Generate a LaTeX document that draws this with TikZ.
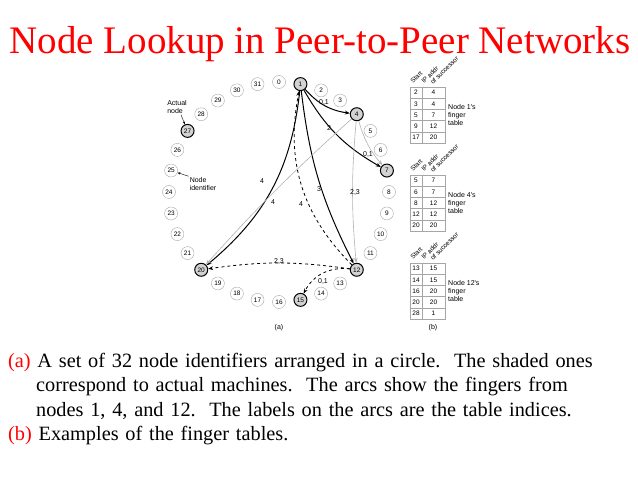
\documentclass[tikz,border=0pt]{standalone}
\usepackage{fontspec}
\setmainfont{Liberation Serif}
\newfontfamily\dsans{Liberation Sans}
\usetikzlibrary{arrows.meta}
\begin{document}
\begin{tikzpicture}[x=1pt,y=-1pt,
  idn/.style={circle,draw=gray!70,thin,inner sep=0pt,minimum size=13pt,font=\dsans\fontsize{6.5}{7}\selectfont},
  act/.style={idn,draw=black,line width=1pt,fill=gray!35},
  lbl/.style={font=\dsans\fontsize{7}{8}\selectfont,inner sep=1pt},
  hdr/.style={font=\dsans\fontsize{6.5}{7}\selectfont,inner sep=0pt,rotate=45,anchor=base west},
  big/.style={line width=1pt,-{Stealth[length=5pt]}},
  thin1/.style={gray!60,line width=0.6pt,-{Stealth[length=5pt]}},
  dsh/.style={dashed,line width=0.8pt,-{Stealth[length=5pt]}},
  cell/.style={font=\dsans\fontsize{6.5}{7}\selectfont}]
\useasboundingbox (0,0) rectangle (638,478);
\node[red,font=\fontsize{39}{44}\selectfont] (title) at (320,44) {Node Lookup in Peer-to-Peer Networks};
\foreach \k in {0,2,3,5,6,8,9,10,11,13,14,16,17,18,19,21,22,23,24,25,26,28,29,30,31}
  \node[idn] (n\k) at ({279+110*sin(\k*11.25)},{192-110*cos(\k*11.25)}) {\k};
\foreach \k in {1,4,7,12,15,20,27}
  \node[act] (n\k) at ({279+110*sin(\k*11.25)},{192-110*cos(\k*11.25)}) {\k};
% annotations
\node[lbl,align=left] (an) at (177,107) {Actual\\node};
\draw[-{Stealth[length=3pt]},thin] (an.south) ++(4,0) -- (n27);
\node[lbl,align=left] (ni) at (203,184) {Node\\identifier};
\draw[-{Stealth[length=3pt]},thin] (ni.north west) -- (n25);
% fingers of node 1
\draw[big] (n1) to[bend right=20] (n4);
\draw[big] (n1) to[bend right=15] (n7);
\draw[big] (n1) to[bend right=10] (n12);
\draw[big] (n1) to[bend left=22] (n20);
% fingers of node 4
\draw[thin1] (n4) to[bend right=12] (n7);
\draw[thin1] (n4) to[bend right=5] (n12);
\draw[thin1] (n4) to[bend right=3] (n20);
% fingers of node 12
\draw[dsh] (n12) to[bend right=35] (n15);
\draw[dsh] (n12) to[bend right=8] (n20);
\draw[dsh] (n12) to[bend left=28] (n1);
% arc labels
\node[lbl] (l1a) at (324,103) {0,1};
\node[lbl] (l1b) at (329,128) {2};
\node[lbl] (l1c) at (319,189) {3};
\node[lbl] (l1d) at (262,181) {4};
\node[lbl] (l4a) at (368,155) {0,1};
\node[lbl] (l4b) at (355,193) {2,3};
\node[lbl] (l4c) at (273,202) {4};
\node[lbl] (l12a) at (323,282) {0,1};
\node[lbl] (l12b) at (279,262) {2,3};
\node[lbl] (l12c) at (301,204) {4};
\node[lbl] (la) at (279,328) {(a)};
% tables
\foreach \top/\nm/\vals in {87/Node 1's/{2/4,3/4,5/7,9/12,17/20},175/Node 4's/{5/7,6/7,8/12,12/12,20/20},263/Node 12's/{13/15,14/15,16/20,20/20,28/1}}{
  \foreach \a/\b [count=\i] in \vals {
    \draw[gray!70,thin] (410,{\top+(\i-1)*11.2}) rectangle (422,{\top+\i*11.2});
    \draw[gray!70,thin] (422,{\top+(\i-1)*11.2}) rectangle (445,{\top+\i*11.2});
    \node[cell] at (416,{\top+(\i-0.5)*11.2}) {\a};
    \node[cell] at (433.5,{\top+(\i-0.5)*11.2}) {\b};
  }
  \draw[gray!70,line width=0.7pt] (410,\top) rectangle (445,{\top+56});
  \node[lbl,align=left,anchor=west] at (447,{\top+28}) {\nm\\finger\\table};
  \node[hdr] at (413,{\top-3}) {Start};
  \node[hdr] at (424,{\top-3}) {IP addr};
  \node[hdr] at (433,{\top-2}) {of successor};
}
\node[lbl] (lb) at (433,328) {(b)};
% caption
\node[anchor=north west,align=left,font=\fontsize{20.3}{24.5}\selectfont,text width=630pt,inner sep=0pt] (cap) at (8,353) {%
\textcolor{red}{(a)} A set of 32 node identifiers arranged in a circle.\ \ The shaded ones\\
\hspace*{28pt}correspond to actual machines.\ \ The arcs show the fingers from\\
\hspace*{28pt}nodes 1, 4, and 12.\ \ The labels on the arcs are the table indices.\\
\textcolor{red}{(b)} Examples of the finger tables.};
\end{tikzpicture}
\end{document}
